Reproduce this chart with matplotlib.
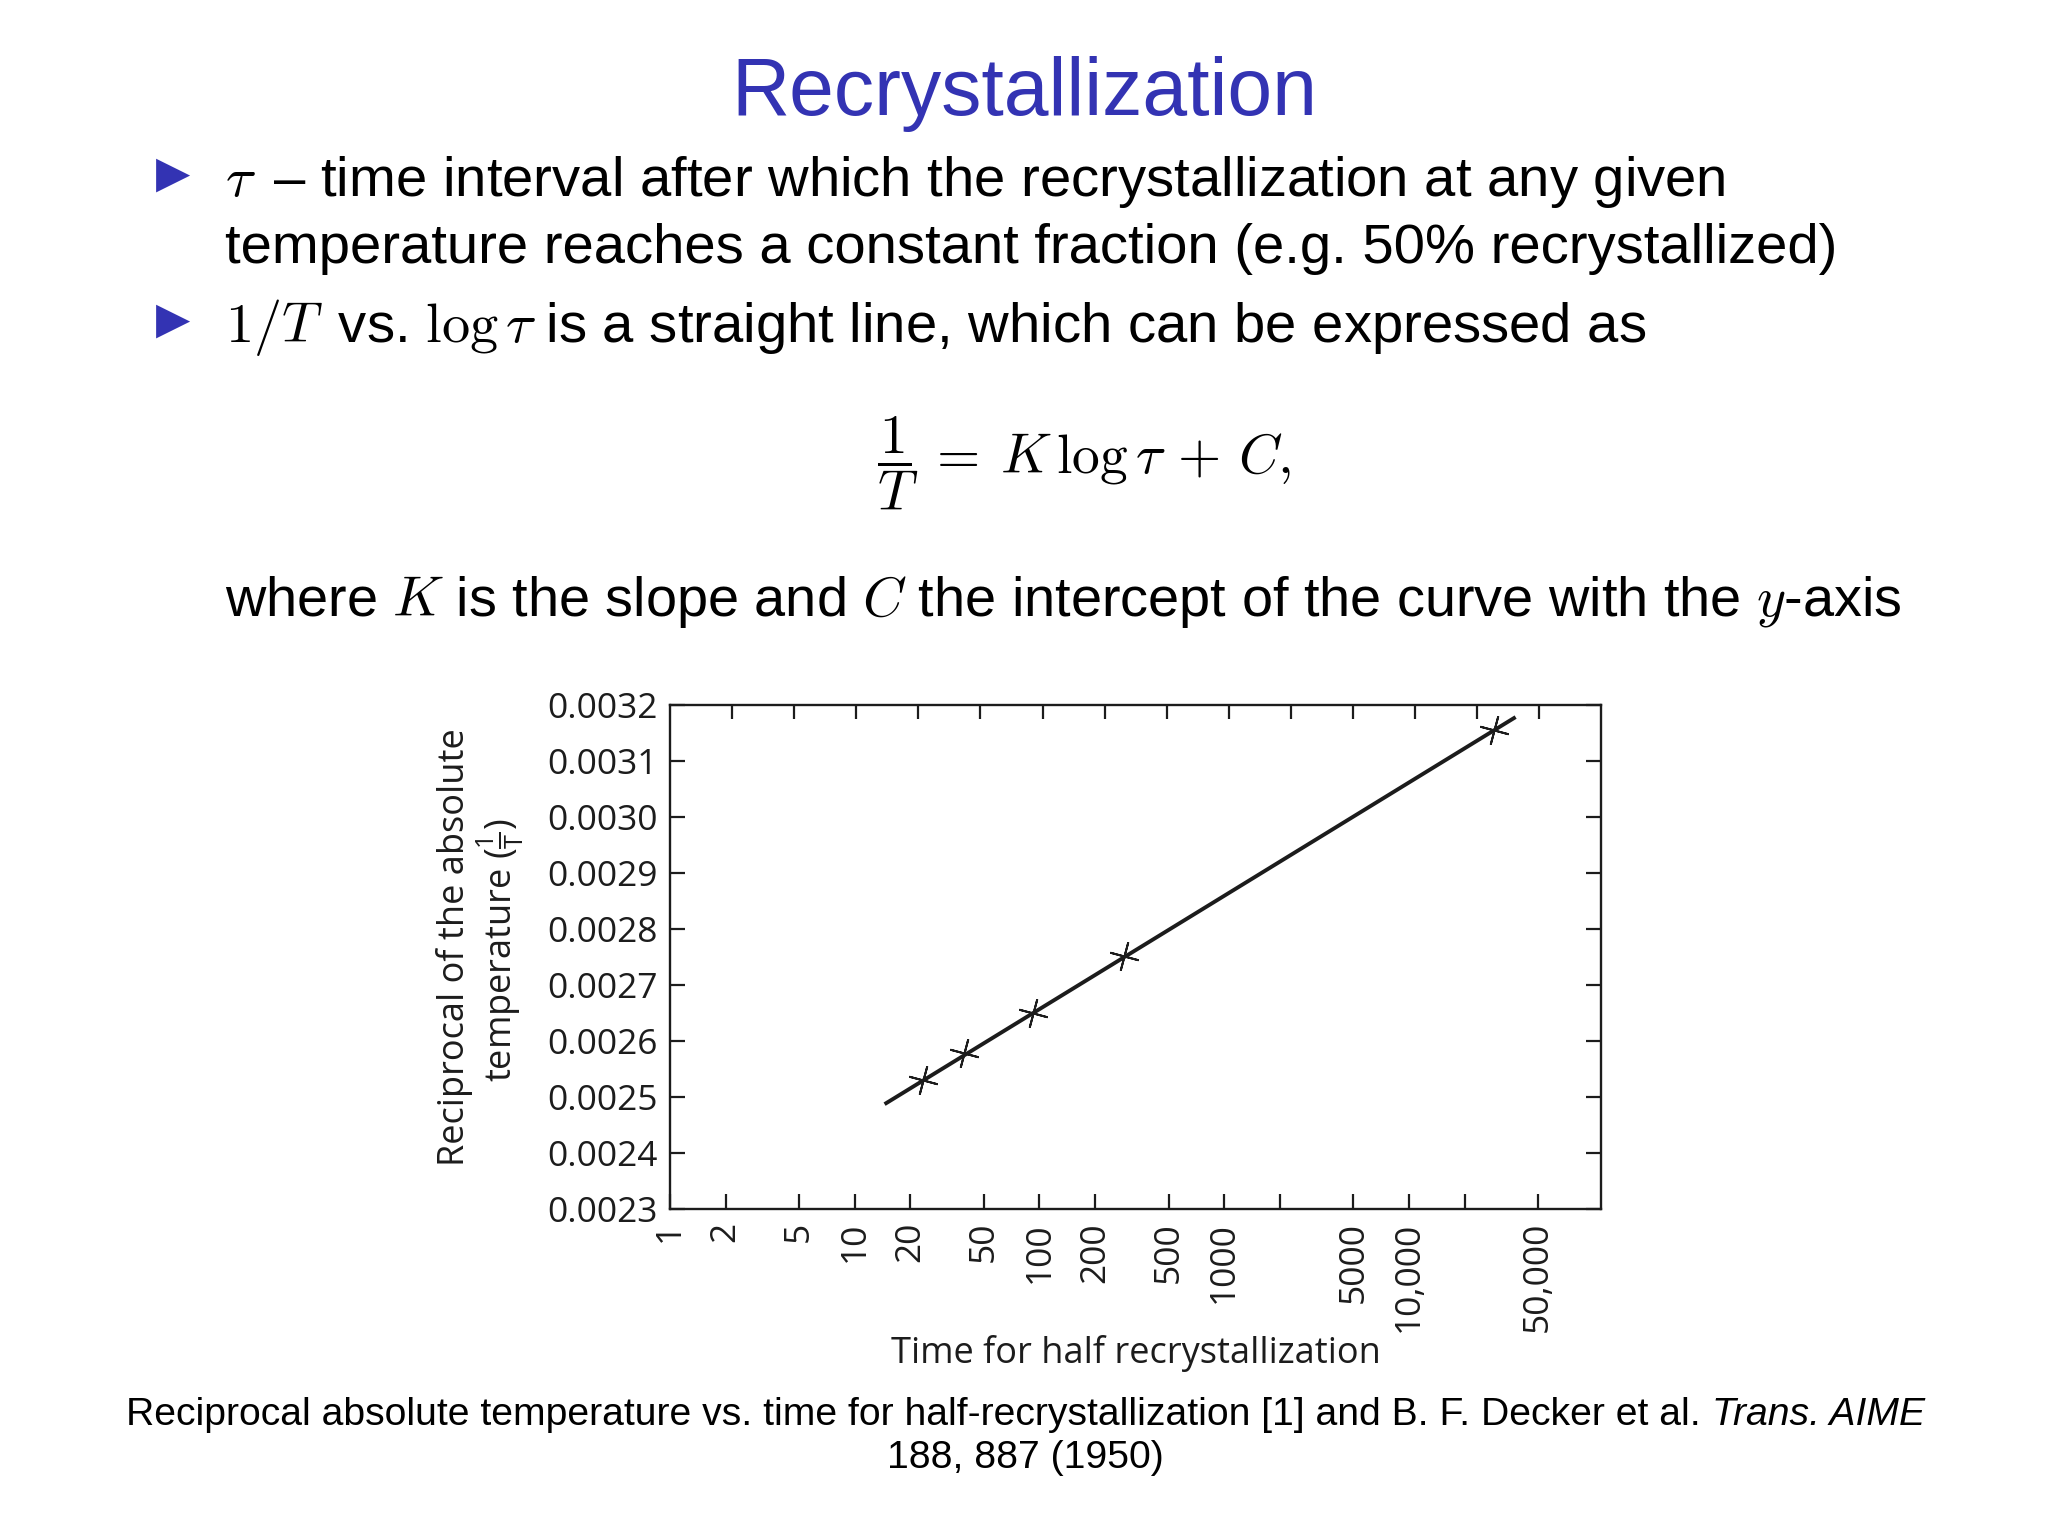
import matplotlib
matplotlib.use("Agg")
import matplotlib.pyplot as plt
from matplotlib.ticker import NullLocator, FixedLocator

# ---------------- data ----------------
tau_points = [23.5, 39, 92, 287, 28900]
inv_T_points = [0.002532, 0.002579, 0.002651, 0.002753, 0.003156]
line_tau = [14.5, 37800]
line_inv_T = [0.002488, 0.003179]

x_ticks = [1, 2, 5, 10, 20, 50, 100, 200, 500, 1000, 2000, 5000, 10000, 20000, 50000]
x_tick_labels = ["1", "2", "5", "10", "20", "50", "100", "200", "500", "1000", "",
                 "5000", "10,000", "", "50,000"]
y_ticks = [0.0023, 0.0024, 0.0025, 0.0026, 0.0027, 0.0028, 0.0029, 0.0030, 0.0031, 0.0032]
y_tick_labels = ["0.0023", "0.0024", "0.0025", "0.0026", "0.0027", "0.0028", "0.0029",
                 "0.0030", "0.0031", "0.0032"]

title = "Recrystallization"
bullet1_a = r"$\tau\,$ – time interval after which the recrystallization at any given"
bullet1_b = "temperature reaches a constant fraction (e.g. 50% recrystallized)"
bullet2 = r"$1/T\,$ vs. $\log\tau$ is a straight line, which can be expressed as"
equation = r"$\dfrac{1}{T} \:=\: K\,\log\tau \,+\, C,$"
where_line = r"where $K$ is the slope and $C$ the intercept of the curve with the $y$-axis"
ylabel_1 = "Reciprocal of the absolute"
ylabel_2 = r"temperature $(\frac{1}{\mathrm{T}})$"
xlabel = "Time for half recrystallization"
caption_a = "Reciprocal absolute temperature vs. time for half-recrystallization [1] and B. F. Decker et al. "
caption_b = "Trans. AIME"
caption_2 = "188, 887 (1950)"

# ---------------- style ----------------
plt.rcParams["font.family"] = ["Liberation Sans", "DejaVu Sans"]
plt.rcParams["mathtext.fontset"] = "cm"
plt.rcParams["mathtext.rm"] = "Open Sans"
plt.rcParams["mathtext.it"] = "Open Sans:italic"
BLUE = "#3333B3"
INK = "#1c1c1c"
W, H = 1568.0, 1176.0  # reference layout units


def fx(x):
    return x / W


def fy(y):
    return 1 - y / H


fig = plt.figure(figsize=(20.48, 15.36), dpi=100)
fig.patch.set_facecolor("white")

# ---------------- slide text ----------------
fig.text(0.5, fy(88), title, ha="center", va="baseline", fontsize=58, color=BLUE)

for yb in (133, 245):
    fig.text(fx(119), fy(yb), "▶", ha="left", va="center", fontsize=32, color=BLUE,
             family="DejaVu Sans")

BODY = 40.5
fig.text(fx(172), fy(150), bullet1_a, ha="left", va="baseline", fontsize=BODY)
fig.text(fx(172), fy(201), bullet1_b, ha="left", va="baseline", fontsize=BODY)
fig.text(fx(172), fy(262), bullet2, ha="left", va="baseline", fontsize=BODY)
fig.text(fx(830), fy(355), equation, ha="center", va="center", fontsize=40)
fig.text(fx(172), fy(472), where_line, ha="left", va="baseline", fontsize=40.2)

# ---------------- chart ----------------
ax = fig.add_axes([fx(513), fy(926), fx(1226) - fx(513), fy(540) - fy(926)])
ax.set_xscale("log")
ax.set_xlim(1, 1.1e5)
ax.set_ylim(0.0023, 0.0032)

ax.plot(line_tau, line_inv_T, color=INK, lw=2.8, solid_capstyle="butt", zorder=3)
ax.plot(tau_points, inv_T_points, ls="none", marker=(4, 2, -15), ms=21, mew=1.4,
        color=INK, zorder=4)

ax.xaxis.set_major_locator(FixedLocator(x_ticks))
ax.xaxis.set_minor_locator(NullLocator())
ax.set_xticklabels(x_tick_labels, rotation=90, fontsize=25.5, family="Open Sans", color=INK)
ax.set_yticks(y_ticks)
ax.set_yticklabels(y_tick_labels, fontsize=25.5, family="Open Sans", color=INK)
ax.tick_params(axis="both", which="major", direction="in", length=11, width=1.6,
               color=INK, pad=9, top=False, right=True)

for s in ax.spines.values():
    s.set_linewidth(1.7)
    s.set_color(INK)

top = ax.twiny()
top.set_xlim(0, 15)
top.set_xticks(range(1, 15))
top.tick_params(axis="x", direction="in", length=10, width=1.6, color=INK,
                labeltop=False, top=True, bottom=False)
for s in top.spines.values():
    s.set_visible(False)

fig.text(fx(348), fy(725.5), ylabel_1, rotation=90, ha="center", va="center",
         fontsize=26, family="Open Sans", color=INK)
fig.text(fx(383), fy(727.5), ylabel_2, rotation=90, ha="center", va="center",
         fontsize=26, family="Open Sans", color=INK, math_fontfamily="custom")
fig.text(fx(870), fy(1036), xlabel, ha="center", va="center", fontsize=26,
         family="Open Sans", color=INK)

# ---------------- caption ----------------
renderer = fig.canvas.get_renderer()
CAP = 28.2
ta = fig.text(0, fy(1091), caption_a, ha="left", va="baseline", fontsize=CAP)
tb = fig.text(0, fy(1091), caption_b, ha="left", va="baseline", fontsize=CAP, style="italic")
wa = ta.get_window_extent(renderer).width / fig.bbox.width
wb = tb.get_window_extent(renderer).width / fig.bbox.width
x0 = fx(785) - (wa + wb) / 2
ta.set_x(x0)
tb.set_x(x0 + wa)
fig.text(fx(785), fy(1124), caption_2, ha="center", va="baseline", fontsize=CAP)

fig.savefig("out.png", dpi=100, facecolor="white")
